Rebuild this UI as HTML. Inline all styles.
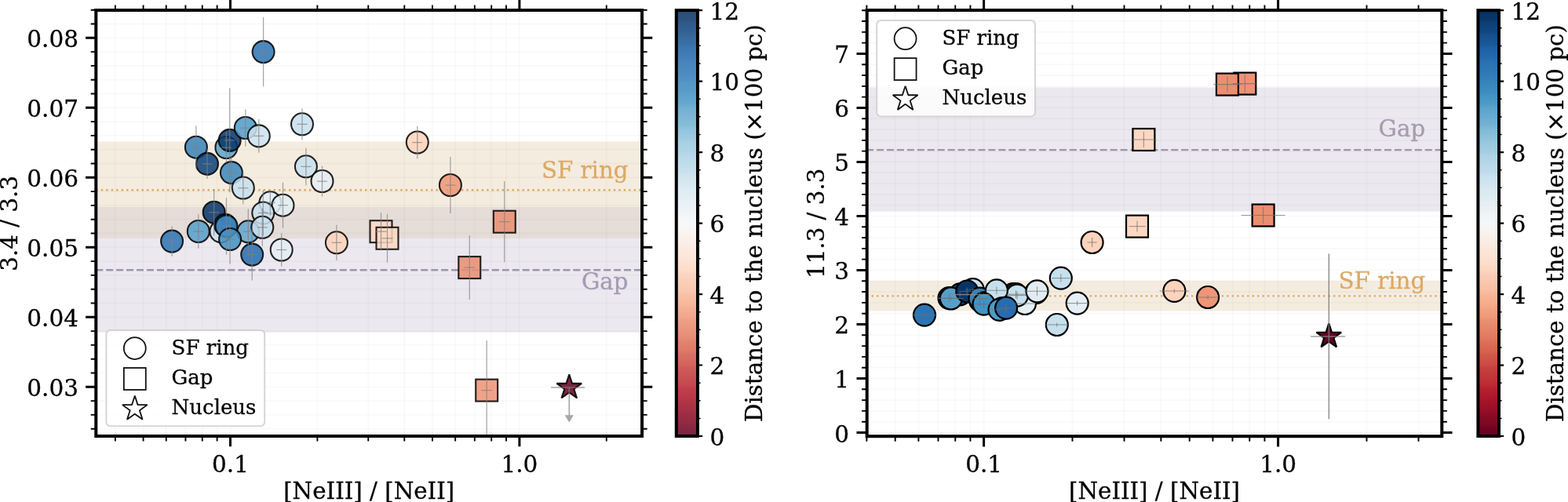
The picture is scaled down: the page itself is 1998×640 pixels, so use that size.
<!DOCTYPE html>
<html><head><meta charset="utf-8"><title>Figure</title>
<style>html,body{margin:0;padding:0;background:#fff;overflow:hidden}svg{display:block}</style>
</head><body>
<svg width="1998" height="640" viewBox="0 0 1998 640" font-family="'DejaVu Serif', serif">
<rect width="1998" height="640" fill="#fff"/>
<defs><clipPath id="clipA1"><rect x="122.3" y="13" width="695.8" height="543"/></clipPath><clipPath id="clipA2"><rect x="1104.7" y="13" width="732.6" height="543.2"/></clipPath></defs>
<g clip-path="url(#clipA1)">
<rect x="122.3" y="180.5" width="695.8" height="83.25" fill="#f5ece0"/>
<rect x="122.3" y="263.75" width="695.8" height="40.25" fill="#e6ddd8"/>
<rect x="122.3" y="304" width="695.8" height="119.7" fill="#ebe8ef"/>
<path d="M293.5 13V556M661.9 13V556M146.9 13V556M182.6 13V556M211.77 13V556M236.43 13V556M257.8 13V556M276.64 13V556M404.4 13V556M469.27 13V556M515.3 13V556M551 13V556M580.17 13V556M604.83 13V556M626.2 13V556M645.04 13V556M772.8 13V556" stroke="#000" stroke-opacity="0.025" stroke-width="1.8" fill="none"/>
<path d="M122.3 493.3H818.1M122.3 404.3H818.1M122.3 315.3H818.1M122.3 226.3H818.1M122.3 137.3H818.1M122.3 48.3H818.1M122.3 546.7H818.1M122.3 528.9H818.1M122.3 511.1H818.1M122.3 475.5H818.1M122.3 457.7H818.1M122.3 439.9H818.1M122.3 422.1H818.1M122.3 386.5H818.1M122.3 368.7H818.1M122.3 350.9H818.1M122.3 333.1H818.1M122.3 297.5H818.1M122.3 279.7H818.1M122.3 261.9H818.1M122.3 244.1H818.1M122.3 208.5H818.1M122.3 190.7H818.1M122.3 172.9H818.1M122.3 155.1H818.1M122.3 119.5H818.1M122.3 101.7H818.1M122.3 83.9H818.1M122.3 66.1H818.1M122.3 30.5H818.1" stroke="#000" stroke-opacity="0.025" stroke-width="1.8" fill="none"/>
<path d="M122.3 242.3H818.1" stroke="#dca964" stroke-width="2.44" stroke-dasharray="2.44 4.026" fill="none"/>
<path d="M122.26 344.3H818.1" stroke="#a094ab" stroke-width="2.44" stroke-dasharray="9.03 3.908" fill="none"/>
<text x="800.6" y="226.9" font-size="29.3" text-anchor="end" fill="#dca964" stroke="#dca964" stroke-width="0.3">SF ring</text>
<text x="800.6" y="368.6" font-size="29.3" text-anchor="end" fill="#a69bb1" stroke="#a69bb1" stroke-width="0.3">Gap</text>
<circle cx="219.1" cy="307.6" r="13.98" fill="#2c75b4" stroke="#000" stroke-width="2.1" fill-opacity="0.86" stroke-opacity="0.86"/>
<circle cx="249.9" cy="187.7" r="13.98" fill="#3783bb" stroke="#000" stroke-width="2.1" fill-opacity="0.86" stroke-opacity="0.86"/>
<circle cx="264" cy="208.9" r="13.98" fill="#0e4179" stroke="#000" stroke-width="2.1" fill-opacity="0.86" stroke-opacity="0.86"/>
<circle cx="288.4" cy="188" r="13.98" fill="#5ca3cb" stroke="#000" stroke-width="2.1" fill-opacity="0.86" stroke-opacity="0.86"/>
<circle cx="292.7" cy="178.9" r="13.98" fill="#073467" stroke="#000" stroke-width="2.1" fill-opacity="0.86" stroke-opacity="0.86"/>
<circle cx="312.8" cy="163" r="13.98" fill="#4f9bc7" stroke="#000" stroke-width="2.1" fill-opacity="0.86" stroke-opacity="0.86"/>
<circle cx="329.8" cy="173.4" r="13.98" fill="#cce2ef" stroke="#000" stroke-width="2.1" fill-opacity="0.86" stroke-opacity="0.86"/>
<circle cx="335.6" cy="66.1" r="13.98" fill="#2c75b4" stroke="#000" stroke-width="2.1" fill-opacity="0.86" stroke-opacity="0.86"/>
<circle cx="294.9" cy="220.1" r="13.98" fill="#3a87bd" stroke="#000" stroke-width="2.1" fill-opacity="0.86" stroke-opacity="0.86"/>
<circle cx="309.8" cy="239.5" r="13.98" fill="#c7e0ed" stroke="#000" stroke-width="2.1" fill-opacity="0.86" stroke-opacity="0.86"/>
<circle cx="385" cy="158.3" r="13.98" fill="#c7e0ed" stroke="#000" stroke-width="2.1" fill-opacity="0.86" stroke-opacity="0.86"/>
<circle cx="389.9" cy="212.3" r="13.98" fill="#c7e0ed" stroke="#000" stroke-width="2.1" fill-opacity="0.86" stroke-opacity="0.86"/>
<circle cx="410.5" cy="231" r="13.98" fill="#e4eef4" stroke="#000" stroke-width="2.1" fill-opacity="0.86" stroke-opacity="0.86"/>
<circle cx="272.7" cy="270.7" r="13.98" fill="#073467" stroke="#000" stroke-width="2.1" fill-opacity="0.86" stroke-opacity="0.86"/>
<circle cx="252.8" cy="295" r="13.98" fill="#569fc9" stroke="#000" stroke-width="2.1" fill-opacity="0.86" stroke-opacity="0.86"/>
<circle cx="281.4" cy="295.2" r="13.98" fill="#cce2ef" stroke="#000" stroke-width="2.1" fill-opacity="0.86" stroke-opacity="0.86"/>
<circle cx="287" cy="286.8" r="13.98" fill="#2f79b5" stroke="#000" stroke-width="2.1" fill-opacity="0.86" stroke-opacity="0.86"/>
<circle cx="288.5" cy="288.4" r="13.98" fill="#3783bb" stroke="#000" stroke-width="2.1" fill-opacity="0.86" stroke-opacity="0.86"/>
<circle cx="316.3" cy="295.3" r="13.98" fill="#62a7ce" stroke="#000" stroke-width="2.1" fill-opacity="0.86" stroke-opacity="0.86"/>
<circle cx="293.1" cy="305" r="13.98" fill="#4393c3" stroke="#000" stroke-width="2.1" fill-opacity="0.86" stroke-opacity="0.86"/>
<circle cx="321.2" cy="324.6" r="13.98" fill="#266caf" stroke="#000" stroke-width="2.1" fill-opacity="0.86" stroke-opacity="0.86"/>
<circle cx="344.4" cy="258.3" r="13.98" fill="#e4eef4" stroke="#000" stroke-width="2.1" fill-opacity="0.86" stroke-opacity="0.86"/>
<circle cx="360.5" cy="261.7" r="13.98" fill="#e1edf3" stroke="#000" stroke-width="2.1" fill-opacity="0.86" stroke-opacity="0.86"/>
<circle cx="335.3" cy="271.5" r="13.98" fill="#c7e0ed" stroke="#000" stroke-width="2.1" fill-opacity="0.86" stroke-opacity="0.86"/>
<circle cx="334.3" cy="289.8" r="13.98" fill="#c7e0ed" stroke="#000" stroke-width="2.1" fill-opacity="0.86" stroke-opacity="0.86"/>
<circle cx="358.7" cy="318.5" r="13.98" fill="#e4eef4" stroke="#000" stroke-width="2.1" fill-opacity="0.86" stroke-opacity="0.86"/>
<circle cx="428.9" cy="309.3" r="13.98" fill="#fcd3bc" stroke="#000" stroke-width="2.1" fill-opacity="0.86" stroke-opacity="0.86"/>
<circle cx="531.8" cy="181.5" r="13.98" fill="#fcd3bc" stroke="#000" stroke-width="2.1" fill-opacity="0.86" stroke-opacity="0.86"/>
<circle cx="573.9" cy="236" r="13.98" fill="#ee9677" stroke="#000" stroke-width="2.1" fill-opacity="0.86" stroke-opacity="0.86"/>
<rect x="471.52" y="281.22" width="27.95" height="27.95" fill="#fcd7c2" stroke="#000" stroke-width="2.1" stroke-linejoin="miter" fill-opacity="0.86" stroke-opacity="0.86"/>
<rect x="479.52" y="289.82" width="27.95" height="27.95" fill="#fcd7c2" stroke="#000" stroke-width="2.1" stroke-linejoin="miter" fill-opacity="0.86" stroke-opacity="0.86"/>
<rect x="628.82" y="268.72" width="27.95" height="27.95" fill="#ea8e70" stroke="#000" stroke-width="2.1" stroke-linejoin="miter" fill-opacity="0.86" stroke-opacity="0.86"/>
<rect x="584.32" y="327.12" width="27.95" height="27.95" fill="#ea8e70" stroke="#000" stroke-width="2.1" stroke-linejoin="miter" fill-opacity="0.86" stroke-opacity="0.86"/>
<rect x="606.23" y="483.62" width="27.95" height="27.95" fill="#ec9374" stroke="#000" stroke-width="2.1" stroke-linejoin="miter" fill-opacity="0.86" stroke-opacity="0.86"/>
<path d="M725.3 477.3L721.55 488.84L709.42 488.84L719.23 495.97L715.48 507.51L725.3 500.38L735.12 507.51L731.37 495.97L741.18 488.84L729.05 488.84Z" fill="#67001f" stroke="#000" stroke-width="2.1" stroke-linejoin="bevel" fill-opacity="0.86" stroke-opacity="0.86"/>
<path d="M219.1 288.5V326.7" stroke="#808080" stroke-width="1.25" fill="none" stroke-opacity="0.7"/>
<path d="M212.3 307.6H225.9" stroke="#808080" stroke-width="1.25" fill="none" stroke-opacity="0.7"/>
<path d="M249.9 160.2V215.2" stroke="#808080" stroke-width="1.25" fill="none" stroke-opacity="0.7"/>
<path d="M243.1 187.7H256.7" stroke="#808080" stroke-width="1.25" fill="none" stroke-opacity="0.7"/>
<path d="M264 189.9V227.9" stroke="#808080" stroke-width="1.25" fill="none" stroke-opacity="0.7"/>
<path d="M257.6 208.9H270.4" stroke="#808080" stroke-width="1.25" fill="none" stroke-opacity="0.7"/>
<path d="M288.4 168.3V207.7" stroke="#808080" stroke-width="1.25" fill="none" stroke-opacity="0.7"/>
<path d="M281.9 188H294.9" stroke="#808080" stroke-width="1.25" fill="none" stroke-opacity="0.7"/>
<path d="M292.7 112.5V245.3" stroke="#808080" stroke-width="1.25" fill="none" stroke-opacity="0.7"/>
<path d="M286.2 178.9H299.2" stroke="#808080" stroke-width="1.25" fill="none" stroke-opacity="0.7"/>
<path d="M312.8 139.4V186.6" stroke="#808080" stroke-width="1.25" fill="none" stroke-opacity="0.7"/>
<path d="M306.3 163H319.3" stroke="#808080" stroke-width="1.25" fill="none" stroke-opacity="0.7"/>
<path d="M329.8 152.1V194.7" stroke="#808080" stroke-width="1.25" fill="none" stroke-opacity="0.7"/>
<path d="M323.3 173.4H336.3" stroke="#808080" stroke-width="1.25" fill="none" stroke-opacity="0.7"/>
<path d="M335.6 21.9V110.3" stroke="#808080" stroke-width="1.25" fill="none" stroke-opacity="0.7"/>
<path d="M329.5 66.1H341.7" stroke="#808080" stroke-width="1.25" fill="none" stroke-opacity="0.7"/>
<path d="M294.9 200.1V240.1" stroke="#808080" stroke-width="1.25" fill="none" stroke-opacity="0.7"/>
<path d="M288.4 220.1H301.4" stroke="#808080" stroke-width="1.25" fill="none" stroke-opacity="0.7"/>
<path d="M309.8 218.5V260.5" stroke="#808080" stroke-width="1.25" fill="none" stroke-opacity="0.7"/>
<path d="M303.3 239.5H316.3" stroke="#808080" stroke-width="1.25" fill="none" stroke-opacity="0.7"/>
<path d="M385 138.4V178.2" stroke="#808080" stroke-width="1.25" fill="none" stroke-opacity="0.7"/>
<path d="M378.4 158.3H391.6" stroke="#808080" stroke-width="1.25" fill="none" stroke-opacity="0.7"/>
<path d="M389.9 188.4V236.2" stroke="#808080" stroke-width="1.25" fill="none" stroke-opacity="0.7"/>
<path d="M383.4 212.3H396.4" stroke="#808080" stroke-width="1.25" fill="none" stroke-opacity="0.7"/>
<path d="M410.5 211.4V250.6" stroke="#808080" stroke-width="1.25" fill="none" stroke-opacity="0.7"/>
<path d="M404 231H417" stroke="#808080" stroke-width="1.25" fill="none" stroke-opacity="0.7"/>
<path d="M272.7 240.9V300.5" stroke="#808080" stroke-width="1.25" fill="none" stroke-opacity="0.7"/>
<path d="M266.2 270.7H279.2" stroke="#808080" stroke-width="1.25" fill="none" stroke-opacity="0.7"/>
<path d="M252.8 273.3V316.7" stroke="#808080" stroke-width="1.25" fill="none" stroke-opacity="0.7"/>
<path d="M246.3 295H259.3" stroke="#808080" stroke-width="1.25" fill="none" stroke-opacity="0.7"/>
<path d="M288.5 252.2V324.6" stroke="#808080" stroke-width="1.25" fill="none" stroke-opacity="0.7"/>
<path d="M283 288.4H294" stroke="#808080" stroke-width="1.25" fill="none" stroke-opacity="0.7"/>
<path d="M316.3 266.6V324" stroke="#808080" stroke-width="1.25" fill="none" stroke-opacity="0.7"/>
<path d="M309.8 295.3H322.8" stroke="#808080" stroke-width="1.25" fill="none" stroke-opacity="0.7"/>
<path d="M293.1 273.4V336.6" stroke="#808080" stroke-width="1.25" fill="none" stroke-opacity="0.7"/>
<path d="M286.6 305H299.6" stroke="#808080" stroke-width="1.25" fill="none" stroke-opacity="0.7"/>
<path d="M321.2 291.6V357.6" stroke="#808080" stroke-width="1.25" fill="none" stroke-opacity="0.7"/>
<path d="M314.7 324.6H327.7" stroke="#808080" stroke-width="1.25" fill="none" stroke-opacity="0.7"/>
<path d="M344.4 242.3V274.3" stroke="#808080" stroke-width="1.25" fill="none" stroke-opacity="0.7"/>
<path d="M337.9 258.3H350.9" stroke="#808080" stroke-width="1.25" fill="none" stroke-opacity="0.7"/>
<path d="M360.5 232.7V290.7" stroke="#808080" stroke-width="1.25" fill="none" stroke-opacity="0.7"/>
<path d="M354 261.7H367" stroke="#808080" stroke-width="1.25" fill="none" stroke-opacity="0.7"/>
<path d="M335.3 242.5V300.5" stroke="#808080" stroke-width="1.25" fill="none" stroke-opacity="0.7"/>
<path d="M328.8 271.5H341.8" stroke="#808080" stroke-width="1.25" fill="none" stroke-opacity="0.7"/>
<path d="M334.3 265.8V313.8" stroke="#808080" stroke-width="1.25" fill="none" stroke-opacity="0.7"/>
<path d="M327.8 289.8H340.8" stroke="#808080" stroke-width="1.25" fill="none" stroke-opacity="0.7"/>
<path d="M358.7 297.2V339.8" stroke="#808080" stroke-width="1.25" fill="none" stroke-opacity="0.7"/>
<path d="M352.2 318.5H365.2" stroke="#808080" stroke-width="1.25" fill="none" stroke-opacity="0.7"/>
<path d="M428.9 286.7V331.9" stroke="#808080" stroke-width="1.25" fill="none" stroke-opacity="0.7"/>
<path d="M422.4 309.3H435.4" stroke="#808080" stroke-width="1.25" fill="none" stroke-opacity="0.7"/>
<path d="M531.8 160.7V202.3" stroke="#808080" stroke-width="1.25" fill="none" stroke-opacity="0.7"/>
<path d="M525.3 181.5H538.3" stroke="#808080" stroke-width="1.25" fill="none" stroke-opacity="0.7"/>
<path d="M573.9 200V272" stroke="#808080" stroke-width="1.25" fill="none" stroke-opacity="0.7"/>
<path d="M567.4 236H580.4" stroke="#808080" stroke-width="1.25" fill="none" stroke-opacity="0.7"/>
<path d="M485.5 271.2V319.2" stroke="#808080" stroke-width="1.25" fill="none" stroke-opacity="0.7"/>
<path d="M478.5 295.2H492.5" stroke="#808080" stroke-width="1.25" fill="none" stroke-opacity="0.7"/>
<path d="M493.5 272.8V334.8" stroke="#808080" stroke-width="1.25" fill="none" stroke-opacity="0.7"/>
<path d="M486.5 303.8H500.5" stroke="#808080" stroke-width="1.25" fill="none" stroke-opacity="0.7"/>
<path d="M642.8 231.1V334.3" stroke="#808080" stroke-width="1.25" fill="none" stroke-opacity="0.7"/>
<path d="M635.8 282.7H649.8" stroke="#808080" stroke-width="1.25" fill="none" stroke-opacity="0.7"/>
<path d="M598.3 300.1V382.1" stroke="#808080" stroke-width="1.25" fill="none" stroke-opacity="0.7"/>
<path d="M591.3 341.1H605.3" stroke="#808080" stroke-width="1.25" fill="none" stroke-opacity="0.7"/>
<path d="M620.2 434.2V561" stroke="#808080" stroke-width="1.25" fill="none" stroke-opacity="0.7"/>
<path d="M613.2 497.6H627.2" stroke="#808080" stroke-width="1.25" fill="none" stroke-opacity="0.7"/>
<path d="M279.7 280.4V296.4" stroke="#808080" stroke-width="1.25" fill="none" stroke-opacity="0.7"/>
<path d="M702.1 494H745.2" stroke="#808080" stroke-opacity="0.7" stroke-width="1.6" fill="none"/>
<path d="M725.3 494V530" stroke="#808080" stroke-opacity="0.7" stroke-width="1.6" fill="none"/>
<path d="M719.7 529.2L730.9 529.2L725.3 538.4Z" fill="#a6a6a6"/>
</g>
<rect x="135.4" y="420.9" width="201.8" height="122.4" rx="5.2" ry="5.2" fill="#fff" fill-opacity="0.8" stroke="#cccccc" stroke-opacity="0.8" stroke-width="2"/>
<circle cx="171.8" cy="444.1" r="13.98" fill="#fff" stroke="#111" stroke-width="1.8"/>
<rect x="157.83" y="469.02" width="27.95" height="27.95" fill="#fff" stroke="#111" stroke-width="1.8" stroke-linejoin="miter"/>
<path d="M171.8 504.6L168.05 516.14L155.92 516.14L165.73 523.27L161.98 534.81L171.8 527.68L181.62 534.81L177.87 523.27L187.68 516.14L175.55 516.14Z" fill="#fff" stroke="#111" stroke-width="1.8" stroke-linejoin="bevel"/>
<text x="218.6" y="451.8" font-size="26" text-anchor="start" fill="#000" stroke="#000" stroke-width="0.3">SF ring</text>
<text x="218.6" y="489.8" font-size="26" text-anchor="start" fill="#000" stroke="#000" stroke-width="0.3">Gap</text>
<text x="218.6" y="527.7" font-size="26" text-anchor="start" fill="#000" stroke="#000" stroke-width="0.3">Nucleus</text>
<path d="M293.5 556V569.2M293.5 13V-0.2M661.9 556V569.2M661.9 13V-0.2" stroke="#000" stroke-width="3.0" fill="none"/>
<path d="M146.9 556V562.6M146.9 13V6.4M182.6 556V562.6M182.6 13V6.4M211.77 556V562.6M211.77 13V6.4M236.43 556V562.6M236.43 13V6.4M257.8 556V562.6M257.8 13V6.4M276.64 556V562.6M276.64 13V6.4M404.4 556V562.6M404.4 13V6.4M469.27 556V562.6M469.27 13V6.4M515.3 556V562.6M515.3 13V6.4M551 556V562.6M551 13V6.4M580.17 556V562.6M580.17 13V6.4M604.83 556V562.6M604.83 13V6.4M626.2 556V562.6M626.2 13V6.4M645.04 556V562.6M645.04 13V6.4M772.8 556V562.6M772.8 13V6.4" stroke="#000" stroke-width="1.9" fill="none"/>
<path d="M122.3 493.3H109.1M818.1 493.3H831.3M122.3 404.3H109.1M818.1 404.3H831.3M122.3 315.3H109.1M818.1 315.3H831.3M122.3 226.3H109.1M818.1 226.3H831.3M122.3 137.3H109.1M818.1 137.3H831.3M122.3 48.3H109.1M818.1 48.3H831.3" stroke="#000" stroke-width="3.0" fill="none"/>
<path d="M122.3 546.7H115.7M818.1 546.7H824.7M122.3 528.9H115.7M818.1 528.9H824.7M122.3 511.1H115.7M818.1 511.1H824.7M122.3 475.5H115.7M818.1 475.5H824.7M122.3 457.7H115.7M818.1 457.7H824.7M122.3 439.9H115.7M818.1 439.9H824.7M122.3 422.1H115.7M818.1 422.1H824.7M122.3 386.5H115.7M818.1 386.5H824.7M122.3 368.7H115.7M818.1 368.7H824.7M122.3 350.9H115.7M818.1 350.9H824.7M122.3 333.1H115.7M818.1 333.1H824.7M122.3 297.5H115.7M818.1 297.5H824.7M122.3 279.7H115.7M818.1 279.7H824.7M122.3 261.9H115.7M818.1 261.9H824.7M122.3 244.1H115.7M818.1 244.1H824.7M122.3 208.5H115.7M818.1 208.5H824.7M122.3 190.7H115.7M818.1 190.7H824.7M122.3 172.9H115.7M818.1 172.9H824.7M122.3 155.1H115.7M818.1 155.1H824.7M122.3 119.5H115.7M818.1 119.5H824.7M122.3 101.7H115.7M818.1 101.7H824.7M122.3 83.9H115.7M818.1 83.9H824.7M122.3 66.1H115.7M818.1 66.1H824.7M122.3 30.5H115.7M818.1 30.5H824.7M122.3 12.7H115.7M818.1 12.7H824.7" stroke="#000" stroke-width="1.9" fill="none"/>
<rect x="122.3" y="13" width="695.8" height="543" fill="none" stroke="#000" stroke-width="4.0" stroke-linejoin="miter"/>
<text x="293.5" y="601.7" font-size="29.5" text-anchor="middle" fill="#000" stroke="#000" stroke-width="0.3">0.1</text>
<text x="661.9" y="601.7" font-size="29.5" text-anchor="middle" fill="#000" stroke="#000" stroke-width="0.3">1.0</text>
<text x="100" y="505.3" font-size="29.5" text-anchor="end" fill="#000" stroke="#000" stroke-width="0.3">0.03</text>
<text x="100" y="416.3" font-size="29.5" text-anchor="end" fill="#000" stroke="#000" stroke-width="0.3">0.04</text>
<text x="100" y="327.3" font-size="29.5" text-anchor="end" fill="#000" stroke="#000" stroke-width="0.3">0.05</text>
<text x="100" y="238.3" font-size="29.5" text-anchor="end" fill="#000" stroke="#000" stroke-width="0.3">0.06</text>
<text x="100" y="149.3" font-size="29.5" text-anchor="end" fill="#000" stroke="#000" stroke-width="0.3">0.07</text>
<text x="100" y="60.3" font-size="29.5" text-anchor="end" fill="#000" stroke="#000" stroke-width="0.3">0.08</text>
<text x="470.2" y="636.2" font-size="29.3" text-anchor="middle" fill="#000" stroke="#000" stroke-width="0.3">[NeIII] / [NeII]</text>
<text transform="translate(22.2,284.8) rotate(-90)" font-size="29.3" text-anchor="middle" stroke="#000" stroke-width="0.3">3.4 / 3.3</text>
<defs><linearGradient id="cb1" x1="0" y1="1" x2="0" y2="0"><stop offset="0" stop-color="#7c243e"/><stop offset="0.02" stop-color="#862740"/><stop offset="0.03" stop-color="#912a42"/><stop offset="0.05" stop-color="#9b2d43"/><stop offset="0.06" stop-color="#a53145"/><stop offset="0.08" stop-color="#af3446"/><stop offset="0.09" stop-color="#b93748"/><stop offset="0.11" stop-color="#c03e4c"/><stop offset="0.12" stop-color="#c54850"/><stop offset="0.14" stop-color="#ca5255"/><stop offset="0.16" stop-color="#ce5c59"/><stop offset="0.17" stop-color="#d3655e"/><stop offset="0.19" stop-color="#d86f62"/><stop offset="0.2" stop-color="#dd7968"/><stop offset="0.22" stop-color="#e1826f"/><stop offset="0.23" stop-color="#e58b76"/><stop offset="0.25" stop-color="#e9957d"/><stop offset="0.27" stop-color="#ed9e84"/><stop offset="0.28" stop-color="#f1a78b"/><stop offset="0.3" stop-color="#f5b093"/><stop offset="0.31" stop-color="#f7b89c"/><stop offset="0.33" stop-color="#f8bfa5"/><stop offset="0.34" stop-color="#f9c7ae"/><stop offset="0.36" stop-color="#faceb8"/><stop offset="0.38" stop-color="#fbd5c1"/><stop offset="0.39" stop-color="#fddcca"/><stop offset="0.41" stop-color="#fde2d2"/><stop offset="0.42" stop-color="#fce6d9"/><stop offset="0.44" stop-color="#fbe9df"/><stop offset="0.45" stop-color="#faede6"/><stop offset="0.47" stop-color="#faf1ec"/><stop offset="0.48" stop-color="#f9f5f2"/><stop offset="0.5" stop-color="#f7f8f8"/><stop offset="0.52" stop-color="#f2f5f7"/><stop offset="0.53" stop-color="#edf3f6"/><stop offset="0.55" stop-color="#e8f1f5"/><stop offset="0.56" stop-color="#e3eef4"/><stop offset="0.58" stop-color="#deecf3"/><stop offset="0.59" stop-color="#d9e9f2"/><stop offset="0.61" stop-color="#d1e5f0"/><stop offset="0.62" stop-color="#c9e1ee"/><stop offset="0.64" stop-color="#c0ddeb"/><stop offset="0.66" stop-color="#b8d8e9"/><stop offset="0.67" stop-color="#afd4e7"/><stop offset="0.69" stop-color="#a7d0e4"/><stop offset="0.7" stop-color="#9dcbe1"/><stop offset="0.72" stop-color="#93c4de"/><stop offset="0.73" stop-color="#88bdda"/><stop offset="0.75" stop-color="#7db6d6"/><stop offset="0.77" stop-color="#73b0d3"/><stop offset="0.78" stop-color="#68a9cf"/><stop offset="0.8" stop-color="#5da2cb"/><stop offset="0.81" stop-color="#599cc8"/><stop offset="0.83" stop-color="#5496c5"/><stop offset="0.84" stop-color="#5090c2"/><stop offset="0.86" stop-color="#4b8abf"/><stop offset="0.88" stop-color="#4684bc"/><stop offset="0.89" stop-color="#427eb9"/><stop offset="0.91" stop-color="#3e77b1"/><stop offset="0.92" stop-color="#3a70a7"/><stop offset="0.94" stop-color="#36689d"/><stop offset="0.95" stop-color="#326193"/><stop offset="0.97" stop-color="#2f5a89"/><stop offset="0.98" stop-color="#2b527f"/><stop offset="1" stop-color="#284d77"/></linearGradient></defs>
<rect x="861.8" y="13.1" width="27.2" height="542.9" fill="url(#cb1)"/>
<path d="M889 556H895.2M889 465.52H895.2M889 375.03H895.2M889 284.55H895.2M889 194.07H895.2M889 103.58H895.2M889 13.1H895.2" stroke="#000" stroke-width="2.2" fill="none"/>
<path d="M889 533.38H892.6M889 510.76H892.6M889 488.14H892.6M889 442.9H892.6M889 420.27H892.6M889 397.65H892.6M889 352.41H892.6M889 329.79H892.6M889 307.17H892.6M889 261.93H892.6M889 239.31H892.6M889 216.69H892.6M889 171.45H892.6M889 148.83H892.6M889 126.2H892.6M889 80.96H892.6M889 58.34H892.6M889 35.72H892.6" stroke="#000" stroke-width="1.5" fill="none"/>
<rect x="861.8" y="13.1" width="27.2" height="542.9" fill="none" stroke="#000" stroke-width="4.0"/>
<text x="904.6" y="567.5" font-size="29.5" text-anchor="start" fill="#000" stroke="#000" stroke-width="0.3">0</text>
<text x="904.6" y="477.02" font-size="29.5" text-anchor="start" fill="#000" stroke="#000" stroke-width="0.3">2</text>
<text x="904.6" y="386.53" font-size="29.5" text-anchor="start" fill="#000" stroke="#000" stroke-width="0.3">4</text>
<text x="904.6" y="296.05" font-size="29.5" text-anchor="start" fill="#000" stroke="#000" stroke-width="0.3">6</text>
<text x="904.6" y="205.57" font-size="29.5" text-anchor="start" fill="#000" stroke="#000" stroke-width="0.3">8</text>
<text x="904.6" y="115.08" font-size="29.5" text-anchor="start" fill="#000" stroke="#000" stroke-width="0.3">10</text>
<text x="904.6" y="24.6" font-size="29.5" text-anchor="start" fill="#000" stroke="#000" stroke-width="0.3">12</text>
<text transform="translate(971,284.55) rotate(-90)" font-size="29.3" text-anchor="middle" fill="#000" stroke="#000" stroke-width="0.3">Distance to the nucleus (×100 pc)</text>
<g clip-path="url(#clipA2)">
<rect x="1104.7" y="111.4" width="732.6" height="158.2" fill="#ebe8ef"/>
<rect x="1104.7" y="358.1" width="732.6" height="38.3" fill="#f5ece0"/>
<path d="M1253.6 13V556.2M1628.6 13V556.2M1140.71 13V556.2M1170.41 13V556.2M1195.51 13V556.2M1217.26 13V556.2M1236.44 13V556.2M1366.49 13V556.2M1432.52 13V556.2M1479.37 13V556.2M1515.71 13V556.2M1545.41 13V556.2M1570.51 13V556.2M1592.26 13V556.2M1611.44 13V556.2M1741.49 13V556.2M1807.52 13V556.2" stroke="#000" stroke-opacity="0.025" stroke-width="1.8" fill="none"/>
<path d="M1104.7 551.5H1837.3M1104.7 482.49H1837.3M1104.7 413.48H1837.3M1104.7 344.47H1837.3M1104.7 275.46H1837.3M1104.7 206.45H1837.3M1104.7 137.44H1837.3M1104.7 68.43H1837.3M1104.7 537.7H1837.3M1104.7 523.9H1837.3M1104.7 510.09H1837.3M1104.7 496.29H1837.3M1104.7 468.69H1837.3M1104.7 454.89H1837.3M1104.7 441.08H1837.3M1104.7 427.28H1837.3M1104.7 399.68H1837.3M1104.7 385.88H1837.3M1104.7 372.07H1837.3M1104.7 358.27H1837.3M1104.7 330.67H1837.3M1104.7 316.87H1837.3M1104.7 303.06H1837.3M1104.7 289.26H1837.3M1104.7 261.66H1837.3M1104.7 247.86H1837.3M1104.7 234.05H1837.3M1104.7 220.25H1837.3M1104.7 192.65H1837.3M1104.7 178.85H1837.3M1104.7 165.04H1837.3M1104.7 151.24H1837.3M1104.7 123.64H1837.3M1104.7 109.84H1837.3M1104.7 96.03H1837.3M1104.7 82.23H1837.3M1104.7 54.63H1837.3M1104.7 40.83H1837.3M1104.7 27.02H1837.3" stroke="#000" stroke-opacity="0.025" stroke-width="1.8" fill="none"/>
<path d="M1104.12 377.4H1837.3" stroke="#dca964" stroke-width="2.44" stroke-dasharray="2.44 4.026" fill="none"/>
<path d="M1104.12 191.1H1837.3" stroke="#a094ab" stroke-width="2.44" stroke-dasharray="9.03 3.908" fill="none"/>
<text x="1816.2" y="368.3" font-size="29.3" text-anchor="end" fill="#dca964" stroke="#dca964" stroke-width="0.3">SF ring</text>
<text x="1816.2" y="173.5" font-size="29.3" text-anchor="end" fill="#a69bb1" stroke="#a69bb1" stroke-width="0.3">Gap</text>
<circle cx="1178" cy="401.6" r="13.98" fill="#2c75b4" stroke="#000" stroke-width="2.2"/>
<circle cx="1209.5" cy="380" r="13.98" fill="#3783bb" stroke="#000" stroke-width="2.2"/>
<circle cx="1223.3" cy="375.3" r="13.98" fill="#0e4179" stroke="#000" stroke-width="2.2"/>
<circle cx="1211.8" cy="380.5" r="13.98" fill="#569fc9" stroke="#000" stroke-width="2.2"/>
<circle cx="1253" cy="384" r="13.98" fill="#073467" stroke="#000" stroke-width="2.2"/>
<circle cx="1249" cy="383" r="13.98" fill="#5ca3cb" stroke="#000" stroke-width="2.2"/>
<circle cx="1239.7" cy="369.2" r="13.98" fill="#cce2ef" stroke="#000" stroke-width="2.2"/>
<circle cx="1232.3" cy="371.5" r="13.98" fill="#073467" stroke="#000" stroke-width="2.2"/>
<circle cx="1248.5" cy="380.6" r="13.98" fill="#3783bb" stroke="#000" stroke-width="2.2"/>
<circle cx="1255" cy="386" r="13.98" fill="#3a87bd" stroke="#000" stroke-width="2.2"/>
<circle cx="1297" cy="381" r="13.98" fill="#2c75b4" stroke="#000" stroke-width="2.2"/>
<circle cx="1291" cy="375" r="13.98" fill="#cce2ef" stroke="#000" stroke-width="2.2"/>
<circle cx="1320.3" cy="373" r="13.98" fill="#e4eef4" stroke="#000" stroke-width="2.2"/>
<circle cx="1306" cy="387" r="13.98" fill="#e4eef4" stroke="#000" stroke-width="2.2"/>
<circle cx="1294.5" cy="375.2" r="13.98" fill="#c7e0ed" stroke="#000" stroke-width="2.2"/>
<circle cx="1296.1" cy="376.6" r="13.98" fill="#c7e0ed" stroke="#000" stroke-width="2.2"/>
<circle cx="1321.5" cy="371.3" r="13.98" fill="#e1edf3" stroke="#000" stroke-width="2.2"/>
<circle cx="1269.9" cy="370.3" r="13.98" fill="#c7e0ed" stroke="#000" stroke-width="2.2"/>
<circle cx="1253.6" cy="387.6" r="13.98" fill="#4393c3" stroke="#000" stroke-width="2.2"/>
<circle cx="1277" cy="393" r="13.98" fill="#62a7ce" stroke="#000" stroke-width="2.2"/>
<circle cx="1273.5" cy="394.8" r="13.98" fill="#4f9bc7" stroke="#000" stroke-width="2.2"/>
<circle cx="1282.1" cy="392.7" r="13.98" fill="#266caf" stroke="#000" stroke-width="2.2"/>
<circle cx="1351.8" cy="354.6" r="13.98" fill="#c7e0ed" stroke="#000" stroke-width="2.2"/>
<circle cx="1372.7" cy="386.6" r="13.98" fill="#e4eef4" stroke="#000" stroke-width="2.2"/>
<circle cx="1346.8" cy="414" r="13.98" fill="#c7e0ed" stroke="#000" stroke-width="2.2"/>
<circle cx="1391.6" cy="309" r="13.98" fill="#fcd3bc" stroke="#000" stroke-width="2.2"/>
<circle cx="1496.4" cy="370.9" r="13.98" fill="#fcd3bc" stroke="#000" stroke-width="2.2"/>
<circle cx="1539.1" cy="379" r="13.98" fill="#ee9677" stroke="#000" stroke-width="2.2"/>
<rect x="1435.03" y="274.62" width="27.95" height="27.95" fill="#fcd7c2" stroke="#000" stroke-width="2.2" stroke-linejoin="miter"/>
<rect x="1443.43" y="164.03" width="27.95" height="27.95" fill="#fcd7c2" stroke="#000" stroke-width="2.2" stroke-linejoin="miter"/>
<rect x="1595.62" y="260.52" width="27.95" height="27.95" fill="#ea8e70" stroke="#000" stroke-width="2.2" stroke-linejoin="miter"/>
<rect x="1572.33" y="92.62" width="27.95" height="27.95" fill="#ec9374" stroke="#000" stroke-width="2.2" stroke-linejoin="miter"/>
<rect x="1549.93" y="93.62" width="27.95" height="27.95" fill="#ea8e70" stroke="#000" stroke-width="2.2" stroke-linejoin="miter"/>
<path d="M1693.3 412.2L1689.55 423.74L1677.42 423.74L1687.23 430.87L1683.48 442.41L1693.3 435.28L1703.12 442.41L1699.37 430.87L1709.18 423.74L1697.05 423.74Z" fill="#67001f" stroke="#000" stroke-width="2.1" stroke-linejoin="bevel"/>
<path d="M1178 399.6V403.6" stroke="#6e6e6e" stroke-width="1.05" fill="none" stroke-opacity="0.7"/>
<path d="M1162.3 401.6H1193.7" stroke="#6e6e6e" stroke-width="1.05" fill="none" stroke-opacity="0.7"/>
<path d="M1209.5 375.3V384.7" stroke="#6e6e6e" stroke-width="1.05" fill="none" stroke-opacity="0.7"/>
<path d="M1195.5 380H1223.5" stroke="#6e6e6e" stroke-width="1.05" fill="none" stroke-opacity="0.7"/>
<path d="M1223.3 372.7V377.9" stroke="#6e6e6e" stroke-width="1.05" fill="none" stroke-opacity="0.7"/>
<path d="M1209.3 375.3H1237.3" stroke="#6e6e6e" stroke-width="1.05" fill="none" stroke-opacity="0.7"/>
<path d="M1211.8 378V383" stroke="#6e6e6e" stroke-width="1.05" fill="none" stroke-opacity="0.7"/>
<path d="M1195.6 380.5H1228" stroke="#6e6e6e" stroke-width="1.05" fill="none" stroke-opacity="0.7"/>
<path d="M1239.7 367.2V371.2" stroke="#6e6e6e" stroke-width="1.05" fill="none" stroke-opacity="0.7"/>
<path d="M1229.7 369.2H1249.7" stroke="#6e6e6e" stroke-width="1.05" fill="none" stroke-opacity="0.7"/>
<path d="M1232.3 366.5V376.5" stroke="#6e6e6e" stroke-width="1.05" fill="none" stroke-opacity="0.7"/>
<path d="M1222 371.5H1242.6" stroke="#6e6e6e" stroke-width="1.05" fill="none" stroke-opacity="0.7"/>
<path d="M1248.5 371.2V390" stroke="#6e6e6e" stroke-width="1.05" fill="none" stroke-opacity="0.7"/>
<path d="M1236.8 380.6H1260.2" stroke="#6e6e6e" stroke-width="1.05" fill="none" stroke-opacity="0.7"/>
<path d="M1306 385V389" stroke="#6e6e6e" stroke-width="1.05" fill="none" stroke-opacity="0.7"/>
<path d="M1292.5 387H1319.5" stroke="#6e6e6e" stroke-width="1.05" fill="none" stroke-opacity="0.7"/>
<path d="M1294.5 370.2V380.2" stroke="#6e6e6e" stroke-width="1.05" fill="none" stroke-opacity="0.7"/>
<path d="M1282.2 375.2H1306.8" stroke="#6e6e6e" stroke-width="1.05" fill="none" stroke-opacity="0.7"/>
<path d="M1296.1 371.6V381.6" stroke="#6e6e6e" stroke-width="1.05" fill="none" stroke-opacity="0.7"/>
<path d="M1283.8 376.6H1308.4" stroke="#6e6e6e" stroke-width="1.05" fill="none" stroke-opacity="0.7"/>
<path d="M1321.5 365.3V377.3" stroke="#6e6e6e" stroke-width="1.05" fill="none" stroke-opacity="0.7"/>
<path d="M1305.5 371.3H1337.5" stroke="#6e6e6e" stroke-width="1.05" fill="none" stroke-opacity="0.7"/>
<path d="M1269.9 365.5V375.1" stroke="#6e6e6e" stroke-width="1.05" fill="none" stroke-opacity="0.7"/>
<path d="M1257.6 370.3H1282.2" stroke="#6e6e6e" stroke-width="1.05" fill="none" stroke-opacity="0.7"/>
<path d="M1253.6 382.3V392.9" stroke="#6e6e6e" stroke-width="1.05" fill="none" stroke-opacity="0.7"/>
<path d="M1242.8 387.6H1264.4" stroke="#6e6e6e" stroke-width="1.05" fill="none" stroke-opacity="0.7"/>
<path d="M1273.5 392.2V397.4" stroke="#6e6e6e" stroke-width="1.05" fill="none" stroke-opacity="0.7"/>
<path d="M1263.5 394.8H1283.5" stroke="#6e6e6e" stroke-width="1.05" fill="none" stroke-opacity="0.7"/>
<path d="M1282.1 386.7V398.7" stroke="#6e6e6e" stroke-width="1.05" fill="none" stroke-opacity="0.7"/>
<path d="M1272.1 392.7H1292.1" stroke="#6e6e6e" stroke-width="1.05" fill="none" stroke-opacity="0.7"/>
<path d="M1351.8 349.6V359.6" stroke="#6e6e6e" stroke-width="1.05" fill="none" stroke-opacity="0.7"/>
<path d="M1340.1 354.6H1363.5" stroke="#6e6e6e" stroke-width="1.05" fill="none" stroke-opacity="0.7"/>
<path d="M1372.7 383.6V389.6" stroke="#6e6e6e" stroke-width="1.05" fill="none" stroke-opacity="0.7"/>
<path d="M1358.7 386.6H1386.7" stroke="#6e6e6e" stroke-width="1.05" fill="none" stroke-opacity="0.7"/>
<path d="M1346.8 411.5V416.5" stroke="#6e6e6e" stroke-width="1.05" fill="none" stroke-opacity="0.7"/>
<path d="M1332.3 414H1361.3" stroke="#6e6e6e" stroke-width="1.05" fill="none" stroke-opacity="0.7"/>
<path d="M1391.6 303V315" stroke="#6e6e6e" stroke-width="1.05" fill="none" stroke-opacity="0.7"/>
<path d="M1385.6 309H1397.6" stroke="#6e6e6e" stroke-width="1.05" fill="none" stroke-opacity="0.7"/>
<path d="M1496.4 368.4V373.4" stroke="#6e6e6e" stroke-width="1.05" fill="none" stroke-opacity="0.7"/>
<path d="M1477.7 370.9H1515.1" stroke="#6e6e6e" stroke-width="1.05" fill="none" stroke-opacity="0.7"/>
<path d="M1539.1 376.5V381.5" stroke="#6e6e6e" stroke-width="1.05" fill="none" stroke-opacity="0.7"/>
<path d="M1525.1 379H1553.1" stroke="#6e6e6e" stroke-width="1.05" fill="none" stroke-opacity="0.7"/>
<path d="M1449 281.7V295.5" stroke="#6e6e6e" stroke-width="1.05" fill="none" stroke-opacity="0.7"/>
<path d="M1438.4 288.6H1459.6" stroke="#6e6e6e" stroke-width="1.05" fill="none" stroke-opacity="0.7"/>
<path d="M1457.4 168V188" stroke="#6e6e6e" stroke-width="1.05" fill="none" stroke-opacity="0.7"/>
<path d="M1441.4 178H1473.4" stroke="#6e6e6e" stroke-width="1.05" fill="none" stroke-opacity="0.7"/>
<path d="M1609.6 263.9V285.1" stroke="#6e6e6e" stroke-width="1.05" fill="none" stroke-opacity="0.7"/>
<path d="M1581.6 274.5H1637.6" stroke="#6e6e6e" stroke-width="1.05" fill="none" stroke-opacity="0.7"/>
<path d="M1586.3 94.6V118.6" stroke="#6e6e6e" stroke-width="1.05" fill="none" stroke-opacity="0.7"/>
<path d="M1570.8 106.6H1601.8" stroke="#6e6e6e" stroke-width="1.05" fill="none" stroke-opacity="0.7"/>
<path d="M1563.9 97.6V117.6" stroke="#6e6e6e" stroke-width="1.05" fill="none" stroke-opacity="0.7"/>
<path d="M1546.3 107.6H1581.5" stroke="#6e6e6e" stroke-width="1.05" fill="none" stroke-opacity="0.7"/>
<path d="M1209.3 375.7H1261.5" stroke="#8c8c8c" stroke-width="1.1" fill="none"/>
<path d="M1670.1 428.9H1713.9" stroke="#888" stroke-opacity="0.6" stroke-width="2" fill="none"/>
<path d="M1693.3 323.5V534.2" stroke="#7a7a7a" stroke-width="1.2" fill="none"/>
</g>
<rect x="1117.2" y="26" width="201.8" height="122.4" rx="5.2" ry="5.2" fill="#fff" fill-opacity="0.8" stroke="#cccccc" stroke-opacity="0.8" stroke-width="2"/>
<circle cx="1153.6" cy="49.2" r="13.98" fill="#fff" stroke="#111" stroke-width="1.8"/>
<rect x="1139.63" y="74.12" width="27.95" height="27.95" fill="#fff" stroke="#111" stroke-width="1.8" stroke-linejoin="miter"/>
<path d="M1153.6 109.7L1149.85 121.24L1137.72 121.24L1147.53 128.37L1143.78 139.91L1153.6 132.78L1163.42 139.91L1159.67 128.37L1169.48 121.24L1157.35 121.24Z" fill="#fff" stroke="#111" stroke-width="1.8" stroke-linejoin="bevel"/>
<text x="1200.4" y="56.9" font-size="26" text-anchor="start" fill="#000" stroke="#000" stroke-width="0.3">SF ring</text>
<text x="1200.4" y="94.9" font-size="26" text-anchor="start" fill="#000" stroke="#000" stroke-width="0.3">Gap</text>
<text x="1200.4" y="132.8" font-size="26" text-anchor="start" fill="#000" stroke="#000" stroke-width="0.3">Nucleus</text>
<path d="M1253.6 556.2V569.4M1253.6 13V-0.2M1628.6 556.2V569.4M1628.6 13V-0.2" stroke="#000" stroke-width="3.0" fill="none"/>
<path d="M1104.37 556.2V562.8M1104.37 13V6.4M1140.71 556.2V562.8M1140.71 13V6.4M1170.41 556.2V562.8M1170.41 13V6.4M1195.51 556.2V562.8M1195.51 13V6.4M1217.26 556.2V562.8M1217.26 13V6.4M1236.44 556.2V562.8M1236.44 13V6.4M1366.49 556.2V562.8M1366.49 13V6.4M1432.52 556.2V562.8M1432.52 13V6.4M1479.37 556.2V562.8M1479.37 13V6.4M1515.71 556.2V562.8M1515.71 13V6.4M1545.41 556.2V562.8M1545.41 13V6.4M1570.51 556.2V562.8M1570.51 13V6.4M1592.26 556.2V562.8M1592.26 13V6.4M1611.44 556.2V562.8M1611.44 13V6.4M1741.49 556.2V562.8M1741.49 13V6.4M1807.52 556.2V562.8M1807.52 13V6.4" stroke="#000" stroke-width="1.9" fill="none"/>
<path d="M1104.7 551.5H1091.5M1837.3 551.5H1850.5M1104.7 482.49H1091.5M1837.3 482.49H1850.5M1104.7 413.48H1091.5M1837.3 413.48H1850.5M1104.7 344.47H1091.5M1837.3 344.47H1850.5M1104.7 275.46H1091.5M1837.3 275.46H1850.5M1104.7 206.45H1091.5M1837.3 206.45H1850.5M1104.7 137.44H1091.5M1837.3 137.44H1850.5M1104.7 68.43H1091.5M1837.3 68.43H1850.5" stroke="#000" stroke-width="3.0" fill="none"/>
<path d="M1104.7 537.7H1098.1M1837.3 537.7H1843.9M1104.7 523.9H1098.1M1837.3 523.9H1843.9M1104.7 510.09H1098.1M1837.3 510.09H1843.9M1104.7 496.29H1098.1M1837.3 496.29H1843.9M1104.7 468.69H1098.1M1837.3 468.69H1843.9M1104.7 454.89H1098.1M1837.3 454.89H1843.9M1104.7 441.08H1098.1M1837.3 441.08H1843.9M1104.7 427.28H1098.1M1837.3 427.28H1843.9M1104.7 399.68H1098.1M1837.3 399.68H1843.9M1104.7 385.88H1098.1M1837.3 385.88H1843.9M1104.7 372.07H1098.1M1837.3 372.07H1843.9M1104.7 358.27H1098.1M1837.3 358.27H1843.9M1104.7 330.67H1098.1M1837.3 330.67H1843.9M1104.7 316.87H1098.1M1837.3 316.87H1843.9M1104.7 303.06H1098.1M1837.3 303.06H1843.9M1104.7 289.26H1098.1M1837.3 289.26H1843.9M1104.7 261.66H1098.1M1837.3 261.66H1843.9M1104.7 247.86H1098.1M1837.3 247.86H1843.9M1104.7 234.05H1098.1M1837.3 234.05H1843.9M1104.7 220.25H1098.1M1837.3 220.25H1843.9M1104.7 192.65H1098.1M1837.3 192.65H1843.9M1104.7 178.85H1098.1M1837.3 178.85H1843.9M1104.7 165.04H1098.1M1837.3 165.04H1843.9M1104.7 151.24H1098.1M1837.3 151.24H1843.9M1104.7 123.64H1098.1M1837.3 123.64H1843.9M1104.7 109.84H1098.1M1837.3 109.84H1843.9M1104.7 96.03H1098.1M1837.3 96.03H1843.9M1104.7 82.23H1098.1M1837.3 82.23H1843.9M1104.7 54.63H1098.1M1837.3 54.63H1843.9M1104.7 40.83H1098.1M1837.3 40.83H1843.9M1104.7 27.02H1098.1M1837.3 27.02H1843.9M1104.7 13.22H1098.1M1837.3 13.22H1843.9" stroke="#000" stroke-width="1.9" fill="none"/>
<rect x="1104.7" y="13" width="732.6" height="543.2" fill="none" stroke="#000" stroke-width="4.0" stroke-linejoin="miter"/>
<text x="1253.6" y="601.7" font-size="29.5" text-anchor="middle" fill="#000" stroke="#000" stroke-width="0.3">0.1</text>
<text x="1628.6" y="601.7" font-size="29.5" text-anchor="middle" fill="#000" stroke="#000" stroke-width="0.3">1.0</text>
<text x="1082" y="563.5" font-size="29.5" text-anchor="end" fill="#000" stroke="#000" stroke-width="0.3">0</text>
<text x="1082" y="494.49" font-size="29.5" text-anchor="end" fill="#000" stroke="#000" stroke-width="0.3">1</text>
<text x="1082" y="425.48" font-size="29.5" text-anchor="end" fill="#000" stroke="#000" stroke-width="0.3">2</text>
<text x="1082" y="356.47" font-size="29.5" text-anchor="end" fill="#000" stroke="#000" stroke-width="0.3">3</text>
<text x="1082" y="287.46" font-size="29.5" text-anchor="end" fill="#000" stroke="#000" stroke-width="0.3">4</text>
<text x="1082" y="218.45" font-size="29.5" text-anchor="end" fill="#000" stroke="#000" stroke-width="0.3">5</text>
<text x="1082" y="149.44" font-size="29.5" text-anchor="end" fill="#000" stroke="#000" stroke-width="0.3">6</text>
<text x="1082" y="80.43" font-size="29.5" text-anchor="end" fill="#000" stroke="#000" stroke-width="0.3">7</text>
<text x="1471" y="636.2" font-size="29.3" text-anchor="middle" fill="#000" stroke="#000" stroke-width="0.3">[NeIII] / [NeII]</text>
<text transform="translate(1050,284.8) rotate(-90)" font-size="29.3" text-anchor="middle" stroke="#000" stroke-width="0.3">11.3 / 3.3</text>
<defs><linearGradient id="cb2" x1="0" y1="1" x2="0" y2="0"><stop offset="0" stop-color="#67001f"/><stop offset="0.02" stop-color="#730421"/><stop offset="0.03" stop-color="#7f0823"/><stop offset="0.05" stop-color="#8a0b25"/><stop offset="0.06" stop-color="#960f27"/><stop offset="0.08" stop-color="#a21328"/><stop offset="0.09" stop-color="#ae172a"/><stop offset="0.11" stop-color="#b61f2e"/><stop offset="0.12" stop-color="#bb2a34"/><stop offset="0.14" stop-color="#c13639"/><stop offset="0.16" stop-color="#c6413e"/><stop offset="0.17" stop-color="#cc4c44"/><stop offset="0.19" stop-color="#d25849"/><stop offset="0.2" stop-color="#d7634f"/><stop offset="0.22" stop-color="#dc6e57"/><stop offset="0.23" stop-color="#e17860"/><stop offset="0.25" stop-color="#e58368"/><stop offset="0.27" stop-color="#ea8e70"/><stop offset="0.28" stop-color="#ef9979"/><stop offset="0.3" stop-color="#f3a481"/><stop offset="0.31" stop-color="#f5ac8b"/><stop offset="0.33" stop-color="#f7b596"/><stop offset="0.34" stop-color="#f8bda1"/><stop offset="0.36" stop-color="#f9c6ac"/><stop offset="0.38" stop-color="#fbceb7"/><stop offset="0.39" stop-color="#fcd7c2"/><stop offset="0.41" stop-color="#fdddcb"/><stop offset="0.42" stop-color="#fce2d2"/><stop offset="0.44" stop-color="#fbe6da"/><stop offset="0.45" stop-color="#faeae1"/><stop offset="0.47" stop-color="#f9efe9"/><stop offset="0.48" stop-color="#f8f3f0"/><stop offset="0.5" stop-color="#f6f7f7"/><stop offset="0.52" stop-color="#f0f4f6"/><stop offset="0.53" stop-color="#eaf1f5"/><stop offset="0.55" stop-color="#e4eef4"/><stop offset="0.56" stop-color="#deebf2"/><stop offset="0.58" stop-color="#d8e9f1"/><stop offset="0.59" stop-color="#d2e6f0"/><stop offset="0.61" stop-color="#cae1ee"/><stop offset="0.62" stop-color="#c0dceb"/><stop offset="0.64" stop-color="#b6d7e8"/><stop offset="0.66" stop-color="#acd2e5"/><stop offset="0.67" stop-color="#a2cde3"/><stop offset="0.69" stop-color="#98c8e0"/><stop offset="0.7" stop-color="#8dc2dc"/><stop offset="0.72" stop-color="#81bad8"/><stop offset="0.73" stop-color="#75b2d4"/><stop offset="0.75" stop-color="#68abd0"/><stop offset="0.77" stop-color="#5ca3cb"/><stop offset="0.78" stop-color="#4f9bc7"/><stop offset="0.8" stop-color="#4393c3"/><stop offset="0.81" stop-color="#3e8cbf"/><stop offset="0.83" stop-color="#3885bc"/><stop offset="0.84" stop-color="#337eb8"/><stop offset="0.86" stop-color="#2e77b5"/><stop offset="0.88" stop-color="#2870b1"/><stop offset="0.89" stop-color="#2369ad"/><stop offset="0.91" stop-color="#1e61a5"/><stop offset="0.92" stop-color="#1a5899"/><stop offset="0.94" stop-color="#15508d"/><stop offset="0.95" stop-color="#114781"/><stop offset="0.97" stop-color="#0d3f76"/><stop offset="0.98" stop-color="#08366a"/><stop offset="1" stop-color="#053061"/></linearGradient></defs>
<rect x="1883.4" y="13.2" width="26.6" height="542.8" fill="url(#cb2)"/>
<path d="M1910 556H1916.2M1910 465.53H1916.2M1910 375.07H1916.2M1910 284.6H1916.2M1910 194.13H1916.2M1910 103.67H1916.2M1910 13.2H1916.2" stroke="#000" stroke-width="2.2" fill="none"/>
<path d="M1910 533.38H1913.6M1910 510.77H1913.6M1910 488.15H1913.6M1910 442.92H1913.6M1910 420.3H1913.6M1910 397.68H1913.6M1910 352.45H1913.6M1910 329.83H1913.6M1910 307.22H1913.6M1910 261.98H1913.6M1910 239.37H1913.6M1910 216.75H1913.6M1910 171.52H1913.6M1910 148.9H1913.6M1910 126.28H1913.6M1910 81.05H1913.6M1910 58.43H1913.6M1910 35.82H1913.6" stroke="#000" stroke-width="1.5" fill="none"/>
<rect x="1883.4" y="13.2" width="26.6" height="542.8" fill="none" stroke="#000" stroke-width="4.0"/>
<text x="1925.6" y="567.5" font-size="29.5" text-anchor="start" fill="#000" stroke="#000" stroke-width="0.3">0</text>
<text x="1925.6" y="477.03" font-size="29.5" text-anchor="start" fill="#000" stroke="#000" stroke-width="0.3">2</text>
<text x="1925.6" y="386.57" font-size="29.5" text-anchor="start" fill="#000" stroke="#000" stroke-width="0.3">4</text>
<text x="1925.6" y="296.1" font-size="29.5" text-anchor="start" fill="#000" stroke="#000" stroke-width="0.3">6</text>
<text x="1925.6" y="205.63" font-size="29.5" text-anchor="start" fill="#000" stroke="#000" stroke-width="0.3">8</text>
<text x="1925.6" y="115.17" font-size="29.5" text-anchor="start" fill="#000" stroke="#000" stroke-width="0.3">10</text>
<text x="1925.6" y="24.7" font-size="29.5" text-anchor="start" fill="#000" stroke="#000" stroke-width="0.3">12</text>
<text transform="translate(1992.4,284.6) rotate(-90)" font-size="29.3" text-anchor="middle" fill="#000" stroke="#000" stroke-width="0.3">Distance to the nucleus (×100 pc)</text>
</svg>
</body></html>
